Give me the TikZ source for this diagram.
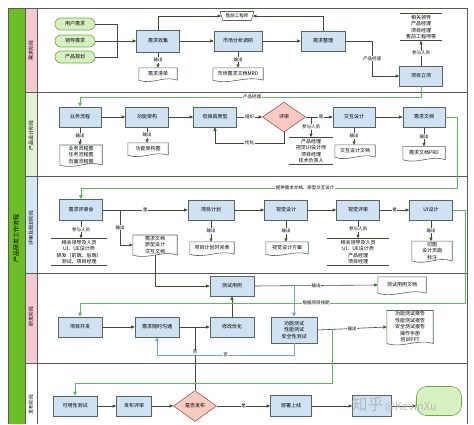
\documentclass[tikz,border=0pt]{standalone}
\usepackage{fontspec}
\setmainfont{Noto Sans CJK SC}
\usetikzlibrary{shapes.geometric,arrows.meta,calc}

\definecolor{boxfill}{HTML}{CFE2F3}
\definecolor{boxdraw}{HTML}{56665A}
\definecolor{termfill}{HTML}{D6F0C2}
\definecolor{termdraw}{HTML}{6AAE3A}
\definecolor{diafill}{HTML}{F8CBC2}
\definecolor{diadraw}{HTML}{B0524A}
\definecolor{lineclr}{HTML}{3F4A3A}
\definecolor{tipclr}{HTML}{2F5A1E}
\definecolor{glineclr}{HTML}{5DBB5A}
\definecolor{blineclr}{HTML}{6FA6DA}
\definecolor{barclr}{HTML}{6CBE26}
\definecolor{pinklane}{HTML}{F6C9D3}
\definecolor{greenlane}{HTML}{E3F1D6}
\definecolor{bluelane}{HTML}{D4E5F4}
\definecolor{framedraw}{HTML}{5A5A5A}

\newcommand\docwave[1]{\draw[draw=boxdraw,line width=0.6pt] (#1.south east) -- (#1.north east) -- (#1.north west) -- (#1.south west) .. controls ($(#1.south west)!0.35!(#1.south east)+(0,5)$) and ($(#1.south west)!0.65!(#1.south east)+(0,-5)$) .. (#1.south east);}
\newcommand\listlines[1]{\draw[draw=lineclr,line width=0.6pt] (#1.north west) -- (#1.north east); \draw[draw=lineclr,line width=0.6pt] (#1.south west) -- (#1.south east);}

\begin{document}
\begin{tikzpicture}[x=1pt,y=-1pt,
  every node/.style={font=\fontsize{5}{6.5}\selectfont, inner sep=0.5pt},
  proc/.style={draw=boxdraw, fill=boxfill, line width=0.6pt, minimum width=#1, minimum height=20pt, align=center},
  proc/.default=43pt,
  term/.style={draw=termdraw, fill=termfill, rounded corners=6pt, minimum width=40pt, minimum height=12pt, line width=0.6pt},
  dia/.style={diamond, draw=diadraw, fill=diafill, line width=0.6pt, minimum width=43pt, minimum height=30pt, inner sep=0pt},
  docn/.style={minimum width=#1, minimum height=12pt, align=center, inner sep=1pt},
  listn/.style={align=center, inner sep=1.5pt, minimum width=#1},
  lbl/.style={fill=white, inner sep=0.6pt, font=\fontsize{4.5}{5}\selectfont},
  lanelbl/.style={rotate=90, font=\fontsize{5}{6}\selectfont},
  arr/.style={draw=lineclr, line width=0.6pt, -{Triangle[length=3.5pt,width=3pt,color=tipclr]}},
  ln/.style={draw=lineclr, line width=0.6pt},
  garr/.style={draw=glineclr, line width=0.9pt, -{Triangle[length=4pt,width=3.5pt]}},
  barr/.style={draw=blineclr, line width=0.9pt, -{Triangle[length=4pt,width=3.5pt]}}
]
\useasboundingbox (0,0) rectangle (474,424);
\fill[white] (0,0) rectangle (474,424);

% frame and lanes
\fill[barclr] (8,8) rectangle (25,424);
\fill[pinklane] (25,8) rectangle (37,92);
\fill[greenlane] (25,92) rectangle (37,176);
\fill[bluelane] (25,176) rectangle (37,273);
\fill[pinklane] (25,273) rectangle (37,363);
\draw[framedraw, line width=0.6pt] (8,424) -- (8,8) -- (467,8) -- (467,424);
\draw[framedraw, line width=0.6pt] (25,8) -- (25,424);
\draw[framedraw, line width=0.6pt] (37,8) -- (37,424);
\foreach \yy in {92,176,273,363} \draw[framedraw, line width=0.6pt] (25,\yy) -- (467,\yy);

\node[lanelbl, font=\fontsize{6}{7}\selectfont] (mainlbl) at (16,238) {产品研发工作流程};
\node[lanelbl] (lane1) at (31,50) {需求阶段};
\node[lanelbl] (lane2) at (31,135) {产品设计阶段};
\node[lanelbl] (lane3) at (31,228) {评审及规划阶段};
\node[lanelbl] (lane4) at (31,316) {研发阶段};
\node[lanelbl] (lane5) at (31,404) {发布阶段};

% ---------- lane 1 ----------
\node[term] (yhxq) at (75,24) {用户需求};
\node[term] (ldxq) at (75,41) {领导需求};
\node[term] (cpgh) at (75,57) {产品规划};
\coordinate (jn) at (117,41);
\node[proc=43pt, minimum height=22pt] (xqsj) at (158,41) {需求收集};
\node[docn=38pt] (xqqd) at (158,74) {需求清单};
\node[trapezium, trapezium angle=65, shape border rotate=180, trapezium stretches=true, draw=boxdraw, fill=white, line width=0.6pt, minimum width=34pt, minimum height=9pt, inner sep=0.5pt, font=\fontsize{4.5}{5}\selectfont] (sqgc) at (237,16) {售前工程师};
\node[proc=48pt] (scfx) at (238,41) {市场分析调研};
\node[docn=50pt] (mrd) at (238,74) {市场需求文档MRD};
\node[proc=44pt] (xqzl) at (323,41) {需求整理};
\node[proc=43pt] (xmlx) at (421,76) {项目立项};
\node[listn=42pt] (xmry) at (421,27) {相关领导\\产品经理\\项目经理\\售前工程师等};

\draw[ln] (yhxq.east) -| (jn);
\draw[ln] (cpgh.east) -| (jn);
\draw[arr] (ldxq.east) -- (xqsj.west);
\draw[arr] (xqsj.south) -- node[lbl] (o1) {输出} (xqqd.north);
\draw[arr] (xqsj.north) |- (sqgc.west);
\draw[arr] (xqzl.north) |- (sqgc.east);
\draw[arr] (xqsj.east) -- (scfx.west);
\draw[arr] (scfx.east) -- (xqzl.west);
\draw[arr] (scfx.south) -- node[lbl] (o2) {输出} (mrd.north);
\coordinate (c1a) at (372,41);
\coordinate (c1b) at (372,76);
\draw[arr] (xqzl.east) -- (c1a) -- node[lbl] (pm1) {产品经理} (c1b) -- (xmlx.west);
\draw[arr] (xmlx.north) -- node[lbl] (cy1) {参与人员} (xmry.south);
\listlines{xmry}
\docwave{xqqd}
\docwave{mrd}

% ---------- lane 2 ----------
\node[proc=42pt] (ywlc) at (80,117) {业务流程};
\node[docn=42pt] (ywdoc) at (81,155) {业务流程图\\任务流程图\\页面流程图};
\node[proc=43pt] (gnjg) at (147,117) {功能架构};
\node[docn=40pt] (gndoc) at (148,149) {功能架构图};
\node[proc=43pt] (dbz) at (215,117) {低保真原型};
\node[dia] (ps) at (284,117) {评审};
\node[proc=42pt] (jhsj) at (354,117) {交互设计};
\node[docn=40pt] (jhdoc) at (355,151) {交互设计文档};
\node[proc=42pt] (xqwd) at (424,117) {需求文档};
\node[docn=42pt, minimum height=13pt] (prd) at (424,153) {需求文档PRD};
\node[listn=44pt] (psry) at (311,151) {产品经理\\视觉UI设计师\\项目经理\\技术负责人};

\draw[arr] (ywlc.east) -- (gnjg.west);
\draw[arr] (gnjg.east) -- (dbz.west);
\draw[arr] (dbz.east) -- node[lbl] (zz) {组织} (ps.west);
\coordinate (y1a) at (284,143);
\coordinate (y1b) at (215,143);
\draw[arr] (ps.south) -- (y1a) -- node[lbl] (yh) {优化} (y1b) -- (dbz.south);
\draw[arr] (ps.east) -- (jhsj.west);
\node[lbl] (shi1) at (321,117) {是};
\coordinate (psb) at (311,117);
\draw[arr] (psb) -- node[lbl] (cy2) {参与人员} (psry.north);
\listlines{psry}
\draw[arr] (jhsj.east) -- (xqwd.west);
\draw[arr] (ywlc.south) -- node[lbl] (o3) {输出} (ywlc.south |- ywdoc.north);
\draw[arr] (gnjg.south) -- node[lbl] (o4) {输出} (gnjg.south |- gndoc.north);
\draw[arr] (jhsj.south) -- node[lbl] (o5) {输出} (jhsj.south |- jhdoc.north);
\draw[arr] (xqwd.south) -- node[lbl] (o6) {输出} (prd.north);
\docwave{ywdoc}
\docwave{gndoc}
\docwave{jhdoc}
\docwave{prd}

% ---------- lane 3 ----------
\node[proc=43pt, minimum height=21pt] (xqpsh) at (81,210) {需求评审会};
\node[listn=56pt] (pshry) at (79,252) {相关领导及人员\\UI、UE设计师\\研发（前端、后端）\\测试、项目经理};
\node[docn=44pt] (xqdoc2) at (155,245) {需求文档\\原型设计\\交互文档};
\node[proc=46pt] (xmjh) at (211,210) {项目计划};
\node[docn=44pt] (jhdoc2) at (212,248) {项目计划时间表};
\node[proc=43pt] (sjsj) at (286,210) {视觉设计};
\node[docn=42pt] (sjdoc) at (287,248) {视觉设计方案};
\node[proc=43pt] (sjps) at (358,210) {视觉评审};
\node[listn=62pt] (sjry) at (358,252) {相关领导及人员\\UI、UE设计师\\产品经理\\项目经理};
\node[proc=43pt] (uisj) at (431,210) {UI设计};
\node[docn=40pt] (uidoc) at (432,251) {切图\\设计页面\\标注};

\draw[arr] (xqpsh.south) -- node[lbl] (cy3) {参与人员} (xqpsh.south |- pshry.north);
\listlines{pshry}
\draw[arr] (xqpsh.east) -- node[lbl] (shi2) {是} (xmjh.west);
\coordinate (oc) at (120,210);
\draw[arr] (oc) |- node[lbl, pos=0.25] (o7) {输出} (xqdoc2.west);
\draw[arr] (xmjh.east) -- (sjsj.west);
\draw[arr] (sjsj.east) -- (sjps.west);
\draw[arr] (sjps.east) -- node[lbl] (shi3) {是} (uisj.west);
\draw[arr] (xmjh.south) -- node[lbl] (o8) {输出} (xmjh.south |- jhdoc2.north);
\draw[arr] (sjsj.south) -- node[lbl] (o9) {输出} (sjsj.south |- sjdoc.north);
\draw[arr] (sjps.south) -- node[lbl] (cy4) {参与人员} (sjry.north);
\listlines{sjry}
\draw[arr] (uisj.south) -- node[lbl] (o10) {输出} (uisj.south |- uidoc.north);
\docwave{xqdoc2}
\docwave{jhdoc2}
\docwave{sjdoc}
\docwave{uidoc}

% ---------- lane 4 ----------
\node[proc=44pt] (csyl) at (232,286) {测试用例};
\node[docn=48pt, minimum height=16pt] (csdoc) at (402,285) {测试用例文档};
\node[proc=44pt] (xmkf) at (80,327) {项目开发};
\node[proc=44pt] (xqgt) at (157,327) {需求随时沟通};
\node[proc=44pt] (xgyh) at (232,327) {修改优化};
\node[proc=46pt, minimum height=26pt] (gnts) at (294,330) {功能测试\\性能测试\\安全性测试};
\node[docn=46pt] (tsdoc) at (410,327) {功能测试报告\\性能测试报告\\安全测试报告\\操作手册\\培训PPT};

\draw[arr] (xqdoc2.south) |- (csyl.west);
\draw[arr] (csyl.east) -- node[lbl] (o11) {输出} (csdoc.west);
\coordinate (bb) at (294,286);
\draw[barr] (bb) -- (gnts.north);
\draw[arr] (xmkf.east) -- (xqgt.west);
\draw[arr] (xqgt.east) -- (xgyh.west);
\draw[arr] (xgyh.north) -- (csyl.south);
\coordinate (b2a) at (294,355);
\coordinate (b2b) at (157,355);
\draw[barr] (gnts.south) -- (b2a) -- node[lbl] (fou1) {否} (b2b) -- (xqgt.south);
\draw[arr] (gnts.east) -- node[lbl] (o12) {输出} (tsdoc.west);
\docwave{csdoc}
\docwave{tsdoc}

% ---------- lane 5 ----------
\node[proc=44pt] (kyx) at (75,406) {可用性测试};
\node[proc=35pt] (fbps) at (134,406) {发布评审};
\node[dia, minimum height=31pt] (sffb) at (195,406) {是否发布};
\node[proc=41pt, minimum height=21pt] (bssx) at (291,406) {部署上线};
\node[proc=39pt, minimum height=21pt] (nextb) at (372,406) {};
\node[term, minimum width=45pt, minimum height=29pt, rounded corners=10pt] (endt) at (439,401) {};

\draw[arr] (kyx.east) -- (fbps.west);
\draw[arr] (fbps.east) -- (sffb.west);
\draw[arr] (sffb.east) -- node[lbl] (shi4) {是} (bssx.west);
\draw[arr] (bssx.east) -- (nextb.west);
\draw[arr] (nextb.east) -- (nextb.east -| endt.west);
\coordinate (fj) at (195,327);
\draw[ln] (sffb.north) -- node[lbl, pos=0.6] (fou2) {否} (fj);

% ---------- green lane-to-lane connectors ----------
\coordinate (g1a) at (421,97);
\coordinate (g1b) at (80,97);
\draw[garr] (xmlx.south) -- (g1a) -- (g1b) -- (ywlc.north);
\node[lbl] (pm2) at (252,97) {产品经理};

\coordinate (g2a) at (457,117);
\coordinate (g2b) at (457,188);
\coordinate (g2c) at (81,188);
\draw[garr] (xqwd.east) -- (g2a) -- (g2b) -- (g2c) -- (xqpsh.north);
\node[lbl] (tg) at (305,188) {提供需求文档、原型交互设计};

\coordinate (g3a) at (465,210);
\coordinate (g3b) at (465,303);
\coordinate (g3c) at (80,303);
\draw[garr] (uisj.east) -- (g3a) -- (g3b) -- (g3c) -- (xmkf.north);
\node[lbl] (gj) at (316,303) {根据项目排期};

\coordinate (gb) at (332,330);
\coordinate (g4a) at (332,383);
\coordinate (g4b) at (75,383);
\draw[garr] (gb) -- (g4a) -- (g4b) -- (kyx.north);

% watermark
\node[anchor=west, text=gray!60, opacity=0.85] (wm) at (351,405) {{\fontsize{16}{16}\selectfont 知乎} {\fontsize{11}{11}\selectfont @KevinXu}};
\end{tikzpicture}
\end{document}
